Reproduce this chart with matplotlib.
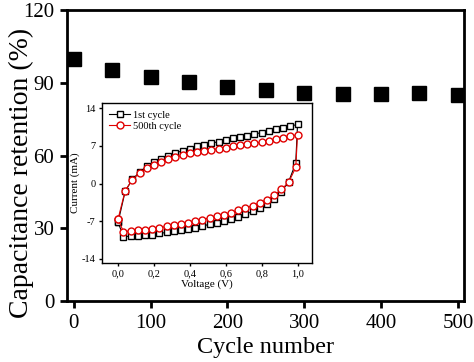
import matplotlib
matplotlib.use("Agg")
import matplotlib.pyplot as plt
from matplotlib.ticker import FuncFormatter

plt.rcParams['font.family'] = ['Liberation Serif', 'DejaVu Serif']
plt.rcParams['mathtext.fontset'] = 'stix'

# Main data
cycles = [0, 50, 100, 150, 200, 250, 300, 350, 400, 450, 500]
retention = [100.0, 95.5, 92.3, 90.2, 88.3, 87.0, 86.0, 85.3, 85.3, 85.7, 85.0]

# Inset CV data
v_up = [0.0, 0.04, 0.08, 0.12, 0.16, 0.20, 0.24, 0.28, 0.32, 0.36, 0.40, 0.44, 0.48,
        0.52, 0.56, 0.60, 0.64, 0.68, 0.72, 0.76, 0.80, 0.84, 0.88, 0.92, 0.96, 1.00]
i1_up = [-7.2, -1.4, 0.8, 2.1, 3.2, 4.0, 4.6, 5.2, 5.7, 6.1, 6.5, 6.9, 7.2,
         7.5, 7.8, 8.1, 8.4, 8.7, 8.9, 9.2, 9.5, 9.8, 10.1, 10.4, 10.7, 11.0]
i500_up = [-6.6, -1.3, 0.7, 2.0, 2.9, 3.5, 4.0, 4.5, 4.9, 5.3, 5.6, 5.9, 6.1,
           6.3, 6.5, 6.7, 6.9, 7.1, 7.3, 7.5, 7.7, 7.9, 8.2, 8.5, 8.8, 9.1]
v_down = [0.99, 0.95, 0.91, 0.87, 0.83, 0.79, 0.75, 0.71, 0.67, 0.63, 0.59, 0.55, 0.51,
          0.47, 0.43, 0.39, 0.35, 0.31, 0.27, 0.23, 0.19, 0.15, 0.11, 0.07, 0.03]
i1_down = [3.8, 0.3, -1.5, -2.8, -3.8, -4.6, -5.2, -5.7, -6.2, -6.6, -7.0, -7.3, -7.6,
           -7.9, -8.2, -8.4, -8.7, -8.9, -9.1, -9.3, -9.5, -9.6, -9.7, -9.8, -9.9]
i500_down = [3.0, 0.2, -1.1, -2.2, -3.0, -3.6, -4.1, -4.6, -5.0, -5.4, -5.8, -6.1, -6.4,
             -6.7, -7.0, -7.3, -7.5, -7.8, -8.0, -8.2, -8.4, -8.6, -8.7, -8.8, -9.0]

fig = plt.figure(figsize=(4.74, 3.62), dpi=100)
ax = fig.add_axes([0.141, 0.1685, 0.838, 0.8035])
ax.plot(cycles, retention, linestyle='none', marker='s', color='black', markersize=9.5)
ax.set_xlim(-9, 508)
ax.set_ylim(0, 120)
ax.set_xticks([0, 100, 200, 300, 400, 500])
ax.set_yticks([0, 30, 60, 90, 120])
ax.tick_params(direction='out', length=5, width=2, labelsize=15, pad=4)
for s in ax.spines.values():
    s.set_linewidth(2)
ax.set_xlabel('Cycle number', fontsize=17.5, labelpad=3)
ax.set_ylabel('Capacitance retention (%)', fontsize=20, va='center')
ax.yaxis.set_label_coords(-0.115, 0.44)

# Inset
ins = fig.add_axes([0.215, 0.2735, 0.443, 0.442])
v1 = v_up + v_down + [v_up[0]]
c1 = i1_up + i1_down + [i1_up[0]]
c500 = i500_up + i500_down + [i500_up[0]]
ins.plot(v1, c1, color='black', linewidth=0.8, marker='s', markersize=4.5,
         markerfacecolor='white', markeredgecolor='black', markeredgewidth=1.0,
         label='1st cycle')
ins.plot(v1, c500, color='#e00000', linewidth=0.8, marker='o', markersize=5,
         markerfacecolor='white', markeredgecolor='#e00000', markeredgewidth=1.0,
         label='500th cycle')
ins.set_xlim(-0.09, 1.08)
ins.set_ylim(-14.8, 15)
ins.set_xticks([0.0, 0.2, 0.4, 0.6, 0.8, 1.0])
ins.set_yticks([-14, -7, 0, 7, 14])
ins.xaxis.set_major_formatter(FuncFormatter(lambda x, p: f'{x:.1f}'.replace('.', ',')))
ins.yaxis.set_major_formatter(FuncFormatter(lambda y, p: f'{int(round(y))}'))
ins.tick_params(direction='out', length=2.5, width=1, labelsize=7.5, pad=2)
for s in ins.spines.values():
    s.set_linewidth(1)
ins.set_xlabel('Voltage (V)', fontsize=8, labelpad=1)
ins.set_ylabel('Current (mA)', fontsize=8, labelpad=1)
ins.legend(loc='upper left', frameon=False, fontsize=7.5, handlelength=2,
           borderaxespad=0.3, handletextpad=0.3, labelspacing=0.2)

fig.savefig('out.png', dpi=100)
